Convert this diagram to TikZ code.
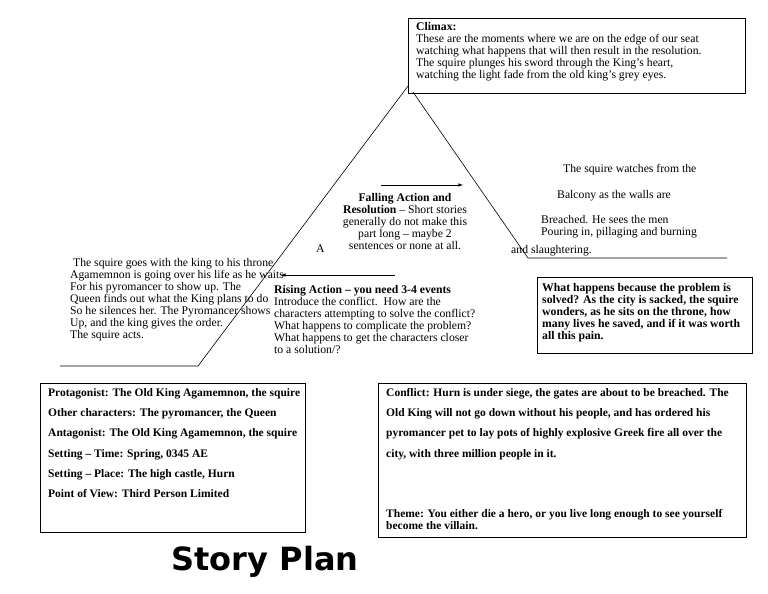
\documentclass[tikz,border=0pt]{standalone}
\usepackage{fontspec}
\setmainfont{Liberation Serif}
\newfontfamily\titlefont{DejaVu Sans}
\begin{document}
\begin{tikzpicture}[x=1pt,y=-1pt,
  txt/.style={inner sep=0pt,align=left,anchor=north west,font=\fontsize{11.7}{12}\selectfont},
  bx/.style={draw,line width=0.8pt},
  pl/.style={line width=0.6pt}]
\useasboundingbox (0,0) rectangle (768,594);
% plot line
\coordinate (b0) at (60,366);
\coordinate (b1) at (198,366);
\coordinate (top1) at (408,86);
\coordinate (top2) at (413,92);
\coordinate (f1) at (528,258);
\coordinate (f2) at (727,258);
\draw[pl] (b0) -- (b1) -- (top1);
\draw[pl] (top2) -- (f1) -- (f2);
% climax
\node[bx,minimum width=337pt,minimum height=75pt,anchor=north west] (clim) at (408,18) {};
\node[txt] (climt) at (416,22) {\textbf{Climax:}\\These are the moments where we are on the edge of our seat\\watching what happens that will then result in the resolution.\\The squire plunges his sword through the King's heart,\\watching the light fade from the old king's grey eyes.};
% falling action
\coordinate (fa1) at (381,185);
\coordinate (fa2) at (463,185);
\draw[-latex,pl] (fa1) -- (fa2);
\node[txt,align=center,anchor=north] (fall) at (405,193) {\textbf{Falling Action and}\\\textbf{Resolution} -- Short stories\\generally do not make this\\part long -- maybe 2\\sentences or none at all.};
\node[txt] (a) at (316,245) {A};
% right story text
\node[txt] (r1) at (563,164) {The squire watches from the};
\node[txt] (r2) at (557,190) {Balcony as the walls are};
\node[txt] (r3) at (541,215) {Breached. He sees the men\\Pouring in, pillaging and burning};
\node[txt] (r4) at (511,245) {and slaughtering.};
% resolution box
\node[bx,minimum width=215pt,minimum height=76pt,anchor=north west] (resb) at (537,277) {};
\node[txt] (rest) at (542,283) {\textbf{What happens because the problem is}\\\textbf{solved? As the city is sacked, the squire}\\\textbf{wonders, as he sits on the throne, how}\\\textbf{many lives he saved, and if it was worth}\\\textbf{all this pain.}};
% rising
\coordinate (ra1) at (395,275);
\coordinate (ra2) at (281,275);
\draw[-latex,pl] (ra1) -- (ra2);
\node[txt] (rise) at (274,285) {\textbf{Rising Action -- you need 3-4 events}\\Introduce the conflict.\ \ How are the\\characters attempting to solve the conflict?\\What happens to complicate the problem?\\What happens to get the characters closer\\to a solution/?};
\node[txt] (left) at (70,258) {\ The squire goes with the king to his throne\\Agamemnon is going over his life as he waits\\For his pyromancer to show up. The\\Queen finds out what the King plans to do\\So he silences her. The Pyromancer shows\\Up, and the king gives the order.\\The squire acts.};
% bottom boxes
\node[bx,minimum width=265pt,minimum height=149pt,anchor=north west] (lb) at (40,383) {};
\node[txt,font=\fontsize{11.5}{20.3}\selectfont] (lbt) at (48,388) {\textbf{Protagonist: The Old King Agamemnon, the squire}\\\textbf{Other characters: The pyromancer, the Queen}\\\textbf{Antagonist: The Old King Agamemnon, the squire}\\\textbf{Setting -- Time: Spring, 0345 AE}\\\textbf{Setting -- Place: The high castle, Hurn}\\\textbf{Point of View: Third Person Limited}};
\node[bx,minimum width=368pt,minimum height=154pt,anchor=north west] (rb) at (378,383) {};
\node[txt,font=\fontsize{11.5}{20.3}\selectfont] (rbt) at (386,388) {\textbf{Conflict: Hurn is under siege, the gates are about to be breached. The}\\\textbf{Old King will not go down without his people, and has ordered his}\\\textbf{pyromancer pet to lay pots of highly explosive Greek fire all over the}\\\textbf{city, with three million people in it.}};
\node[txt,font=\fontsize{11.5}{12.5}\selectfont] (theme) at (386,509) {\textbf{Theme: You either die a hero, or you live long enough to see yourself}\\\textbf{become the villain.}};
\node[inner sep=0pt,font=\titlefont\bfseries\fontsize{32}{36}\selectfont] (title) at (265,562) {Story Plan};
\end{tikzpicture}
\end{document}
